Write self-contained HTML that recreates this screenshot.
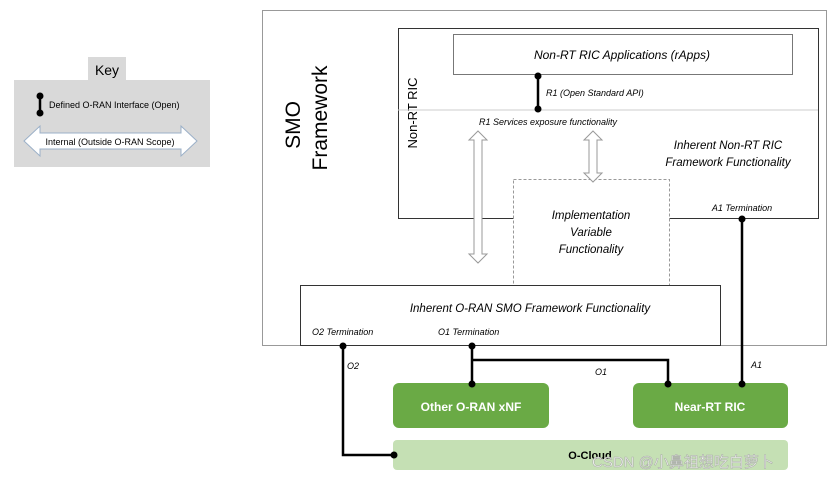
<!DOCTYPE html>
<html><head><style>body{margin:0;background:#fff}svg{display:block}text{font-family:"Liberation Sans","Noto Sans CJK SC",sans-serif}</style></head><body>
<svg width="837" height="481" viewBox="0 0 837 481" xmlns="http://www.w3.org/2000/svg">
<defs><marker id="d" markerWidth="6" markerHeight="6" refX="3" refY="3"><circle cx="3" cy="3" r="2.2" fill="#000"/></marker></defs>
<!-- Key -->
<rect x="88" y="57" width="38" height="24" fill="#d9d9d9"/>
<text x="107" y="75" font-size="14" text-anchor="middle">Key</text>
<rect x="14" y="80" width="196" height="87" fill="#d9d9d9"/>
<line x1="40" y1="97" x2="40" y2="112" stroke="#000" stroke-width="2.5"/>
<circle cx="40" cy="96" r="3.5"/><circle cx="40" cy="113" r="3.5"/>
<text x="49" y="108" font-size="9">Defined O-RAN Interface (Open)</text>
<polygon points="24,141 40,126 40,133 181,133 181,126 197,141 181,156 181,149 40,149 40,156" fill="#fff" stroke="#9bb0c8"/>
<text x="110" y="145" font-size="9" text-anchor="middle">Internal (Outside O-RAN Scope)</text>
<!-- SMO -->
<rect x="262.5" y="10.5" width="564" height="335" fill="#fff" stroke="#999"/>
<text transform="translate(300,125) rotate(-90)" font-size="21" text-anchor="middle">SMO</text>
<text transform="translate(327,118) rotate(-90)" font-size="21" text-anchor="middle">Framework</text>
<rect x="398.5" y="28.5" width="420" height="190" fill="#fff" stroke="#333"/>
<text transform="translate(417,113) rotate(-90)" font-size="13" text-anchor="middle">Non-RT RIC</text>
<rect x="453.5" y="34.5" width="339" height="40" fill="#fff" stroke="#777"/>
<text x="622" y="59" font-size="12" font-style="italic" text-anchor="middle">Non-RT RIC Applications (rApps)</text>
<line x1="398" y1="110" x2="818" y2="110" stroke="#ccc"/>
<line x1="538" y1="76" x2="538" y2="109" stroke="#000" stroke-width="2.5"/>
<circle cx="538" cy="76" r="3.5"/><circle cx="538" cy="109" r="3.5"/>
<text x="546" y="96" font-size="9" font-style="italic">R1 (Open Standard API)</text>
<text x="548" y="125" font-size="9" font-style="italic" text-anchor="middle">R1 Services exposure functionality</text>
<text x="728" y="149" font-size="11.5" font-style="italic" text-anchor="middle">Inherent Non-RT RIC</text>
<text x="728" y="166" font-size="11.5" font-style="italic" text-anchor="middle">Framework Functionality</text>
<text x="742" y="211" font-size="9" font-style="italic" text-anchor="middle">A1 Termination</text>
<rect x="513.5" y="179.5" width="156" height="106" fill="#fff" stroke="#999" stroke-dasharray="3,2"/>
<text x="591" y="219" font-size="11.5" font-style="italic" text-anchor="middle">Implementation</text>
<text x="591" y="236" font-size="11.5" font-style="italic" text-anchor="middle">Variable</text>
<text x="591" y="253" font-size="11.5" font-style="italic" text-anchor="middle">Functionality</text>
<polygon points="478,131 487,140 482,140 482,254 487,254 478,263 469,254 474,254 474,140 469,140" fill="#fff" stroke="#999"/>
<polygon points="593,131 602,140 597,140 597,173 602,173 593,182 584,173 589,173 589,140 584,140" fill="#fff" stroke="#999"/>
<rect x="300.5" y="285.5" width="420" height="60" fill="#fff" stroke="#333"/>
<text x="530" y="312" font-size="11.5" font-style="italic" text-anchor="middle">Inherent O-RAN SMO Framework Functionality</text>
<text x="312" y="335" font-size="9" font-style="italic">O2 Termination</text>
<text x="438" y="335" font-size="9" font-style="italic">O1 Termination</text>
<!-- green -->
<rect x="393" y="383" width="156" height="45" rx="6" fill="#6aaa45"/>
<text x="471" y="411" font-size="12" font-weight="bold" fill="#fff" text-anchor="middle">Other O-RAN xNF</text>
<rect x="633" y="383" width="155" height="45" rx="6" fill="#6aaa45"/>
<text x="710" y="411" font-size="12" font-weight="bold" fill="#fff" text-anchor="middle">Near-RT RIC</text>
<rect x="393" y="440" width="395" height="30" rx="4" fill="#c5e0b4"/>
<text x="590" y="459" font-size="11" font-weight="bold" text-anchor="middle">O-Cloud</text>
<!-- connectors -->
<g stroke="#000" stroke-width="2.5" fill="none">
<path d="M742 219 V384"/>
<path d="M343 346 V455 H393"/>
<path d="M472 346 V384 M472 360 H668 V384"/>
</g>
<g fill="#000"><circle cx="742" cy="219" r="3.5"/><circle cx="742" cy="384" r="3.5"/>
<circle cx="343" cy="346" r="3.5"/><circle cx="394" cy="455" r="3.5"/>
<circle cx="472" cy="346" r="3.5"/><circle cx="472" cy="384" r="3.5"/><circle cx="668" cy="384" r="3.5"/></g>
<text x="347" y="369" font-size="9" font-style="italic">O2</text>
<text x="595" y="375" font-size="9" font-style="italic">O1</text>
<text x="751" y="368" font-size="9" font-style="italic">A1</text>
<text x="592" y="467" font-size="15" fill="#fff" stroke="#aaa" stroke-width="0.6" opacity="0.9">CSDN @小鼻祖想吃白萝卜</text>
</svg>
</body></html>
